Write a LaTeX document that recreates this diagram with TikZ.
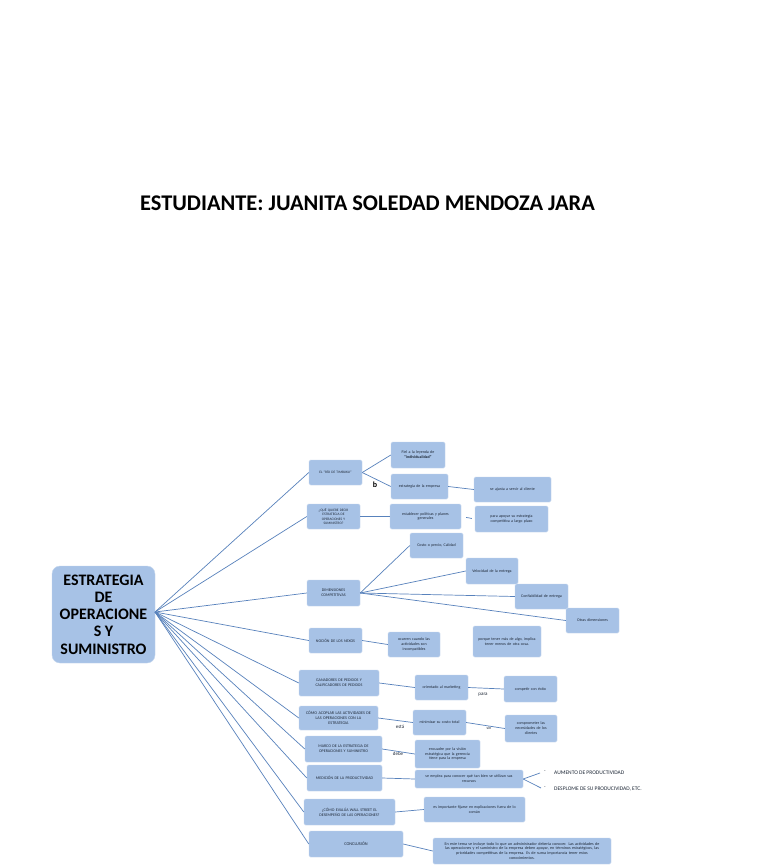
\documentclass[tikz,border=0pt]{standalone}
\usepackage{fontspec}
\setmainfont{Carlito}
\usetikzlibrary{calc}
\definecolor{boxfill}{RGB}{167,194,230}
\definecolor{boxedge}{RGB}{196,214,238}
\definecolor{linecol}{RGB}{88,130,188}
\definecolor{txt}{RGB}{30,40,55}
\hyphenpenalty=10000
\exhyphenpenalty=10000
\tikzset{
  box/.style={draw=boxedge, fill=boxfill, rounded corners=1.5pt, inner sep=1pt, align=center, text=txt, font=\fontsize{4}{4.9}\selectfont},
  smallcap/.style={font=\fontsize{3.5}{4.3}\selectfont},
  conn/.style={draw=linecol, line width=0.7pt},
  lbl/.style={text=txt, font=\fontsize{5}{6}\selectfont, inner sep=0pt}
}
\newcommand\bx[7][]{%
  \pgfmathsetmacro\bxcx{(#3+#5)/2}%
  \pgfmathsetmacro\bxcy{(#4+#6)/2}%
  \pgfmathsetmacro\bxw{#5-#3}%
  \pgfmathsetmacro\bxh{#6-#4}%
  \pgfmathsetmacro\bxtw{#5-#3-2}%
  \node[box,minimum width=\bxw pt,minimum height=\bxh pt,text width=\bxtw pt,#1] (#2) at (\bxcx,\bxcy) {#7};}
\begin{document}
\begin{tikzpicture}[x=1pt,y=-1pt]
\fill[white] (0,0) rectangle (768,866);
\useasboundingbox (0,0) rectangle (768,866);

\node[font=\bfseries\fontsize{22.4}{26}\selectfont, text=black, inner sep=0pt] (title) at (367.5,203) {ESTUDIANTE: JUANITA SOLEDAD MENDOZA JARA};

% main node
\node[draw=boxedge, fill=boxfill, rounded corners=8pt, minimum width=103pt, minimum height=97pt, align=center, inner sep=1pt,
      font=\bfseries\fontsize{16}{17.3}\selectfont, text=black] (main) at (103.5,614.5)
  {ESTRATEGIA\\DE\\OPERACIONE\\S Y\\SUMINISTRO};

% first level
\bx[smallcap]{rio}{309}{460}{362}{485}{EL “RÍO DE TIMBUKU”}
\bx[smallcap]{que}{307}{504}{360}{529}{¿QUÉ QUIERE DECIR\\ESTRATEGIA DE\\OPERACIONES Y\\SUMINISTRO?}
\bx{dim}{307}{580}{360}{606}{DIMENSIONES\\COMPETITIVAS}
\bx{noc}{309}{628}{362}{653}{NOCIÓN DE LOS NEXOS}
\bx{gan}{299}{670}{379}{696}{GANADORES DE PEDIDOS Y\\CALIFICADORES DE PEDIDOS}
\bx[font=\fontsize{4.1}{4.8}\selectfont]{como}{299}{706}{378}{730}{CÓMO ACOPLAR LAS ACTIVIDADES DE\\LAS OPERACIONES CON LA\\ESTRATEGIA}
\bx{marco}{305}{736}{382}{762}{MARCO DE LA ESTRATEGIA DE\\OPERACIONES Y SUMINISTRO}
\bx{med}{307}{765}{382}{791}{MEDICIÓN DE LA PRODUCTIVIDAD}
\bx{eval}{304}{799}{395}{825}{¿CÓMO EVALÚA WALL STREET EL\\DESEMPEÑO DE LAS OPERACIONES?}
\bx[font=\fontsize{4.3}{5}\selectfont]{conc}{309}{831}{403}{857}{CONCLUSIÓN}

% second level
\bx{fiel}{391}{442}{445}{468}{Fiel a la leyenda de\\\textbf{“individualidad”}}
\bx{estr}{391}{474}{448}{499}{estrategia de la empresa}
\bx{ajus}{474}{477}{551}{502}{se ajusta a servir al cliente}
\bx{est}{390}{504}{461}{529}{establecer políticas y planes\\generales}
\bx{apoy}{475}{506}{548}{532}{para apoyar su estrategia\\competitiva a largo plazo}
\bx{cost}{410}{533}{463}{558}{Costo o precio, Calidad}
\bx{vel}{466}{558}{518}{584}{Velocidad de la entrega}
\bx{conf}{515}{584}{568}{609}{Confiabilidad de entrega}
\bx{otr}{566}{608}{619}{633}{Otras dimensiones}
\bx{ocu}{388}{632}{440}{657}{ocurren cuando las\\actividades son\\incompatibles}
\bx{porq}{473}{626}{541}{657}{porque tener más de algo, implica\\tener menos de otra cosa.}
\bx{ori}{415}{675}{468}{700}{orientado al marketing}
\bx{comp}{504}{676}{557}{702}{competir con éxito}
\bx{mini}{413}{710}{466}{735}{minimizar su costo total}
\bx{compr}{505}{715}{557}{742}{comprometer las\\necesidades de los\\clientes}
\bx{encu}{415}{740}{480}{768}{encuadre por la visión\\estratégica que la gerencia\\tiene para la empresa}
\bx{empl}{415}{770}{523}{788}{se emplea para conocer qué tan bien se utilizan sus\\recursos}
\bx{impo}{424}{797}{525}{822}{es importante fijarse en explicaciones fuera de lo\\común}
\bx[font=\fontsize{4.1}{4.9}\selectfont]{tema}{433}{838}{611}{864}{En este tema se incluye todo lo que un administrador debería conocer. Las actividades de\\las operaciones y el suministro de la empresa deben apoyar, en términos estratégicos, las\\prioridades competitivas de la empresa. Es de suma importancia tener estos\\conocimientos.}

% bullets
\node[lbl, font=\fontsize{5.5}{6.5}\selectfont, anchor=west] (b1) at (554,773) {AUMENTO DE PRODUCTIVIDAD};
\node[lbl, font=\fontsize{5.5}{6.5}\selectfont, anchor=west] (b2) at (554,789) {DESPLOME DE SU PRODUCIVIDAD, ETC.};
\node[lbl, font=\fontsize{5}{6}\selectfont] (d1) at (545,772) {-};
\node[lbl, font=\fontsize{5}{6}\selectfont] (d2) at (545,788) {-};
\coordinate (e1) at (540,773);
\coordinate (e2) at (541,788);

% labels
\node[lbl] (para) at (483,695) {para};
\node[lbl] (esta) at (400,727) {está};
\node[lbl, font=\fontsize{4}{5}\selectfont] (sin) at (489,728) {sin};
\node[lbl] (debe) at (398,754) {debe};
\node[lbl, font=\bfseries\fontsize{8}{9}\selectfont, text=black] (bb) at (375,485) {b};

% connectors from main
\coordinate (src) at (155,612);
\foreach \n in {rio,que,dim,noc,gan,como,marco,med,eval,conc}
  \draw[conn] (src) -- (\n.west);

% other connectors
\draw[conn] (rio.east) -- (fiel.west);
\draw[conn] (rio.east) -- (estr.west);
\draw[conn] (estr.east) -- (ajus.west);
\draw[conn] (que.east) -- (est.west);
\draw[conn, shorten <=5pt, shorten >=3pt] (est.east) -- (apoy.west);
\draw[conn] (dim.east) -- (cost.west);
\draw[conn] (dim.east) -- (vel.west);
\draw[conn] (dim.east) -- (conf.west);
\draw[conn] (dim.east) -- (otr.west);
\draw[conn] (noc.east) -- (ocu.west);
\draw[conn] (gan.east) -- (ori.west);
\draw[conn] (ori.east) -- (comp.west);
\draw[conn] (como.east) -- (mini.west);
\draw[conn] (mini.east) -- (compr.west);
\draw[conn] (marco.east) -- (encu.west);
\draw[conn] (med.east) -- (empl.west);
\draw[conn] (empl.east) -- (e1);
\draw[conn] (empl.east) -- (e2);
\draw[conn] (eval.east) -- (impo.west);
\draw[conn] (conc.east) -- (tema.west);
\end{tikzpicture}
\end{document}
